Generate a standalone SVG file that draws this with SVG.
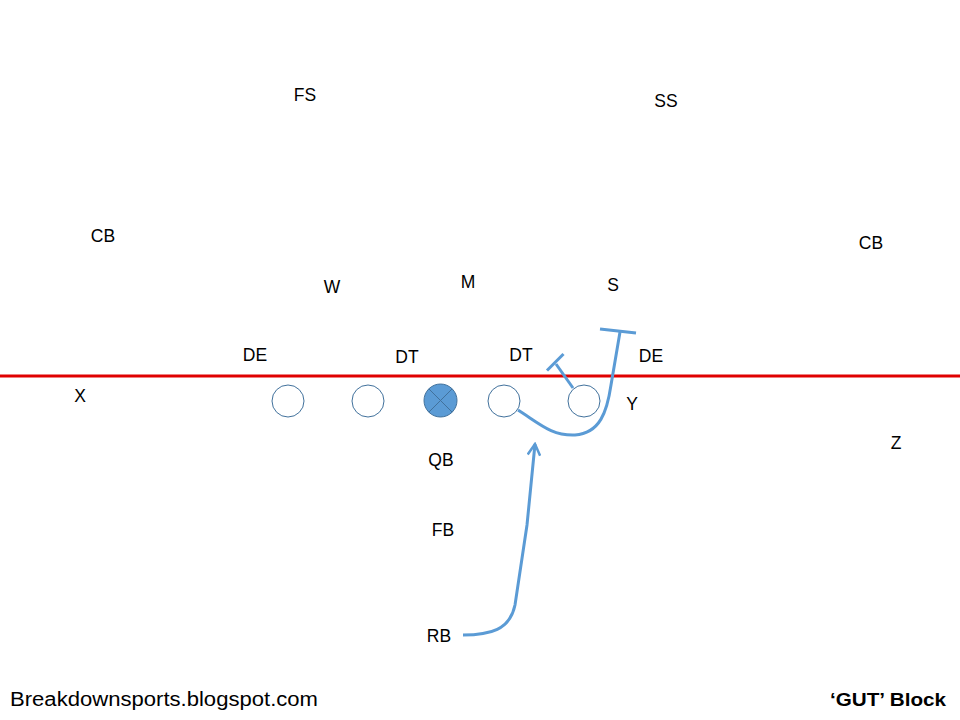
<svg xmlns="http://www.w3.org/2000/svg" width="960" height="720" viewBox="0 0 960 720">
<style>
text{font-family:"Liberation Sans","Open Sans",sans-serif;font-size:17.5px;fill:#000;text-anchor:middle}
.o{fill:#fff;stroke:#41719c;stroke-width:1}
.route{fill:none;stroke:#5b9bd5;stroke-width:3;stroke-linecap:butt}
</style>
<defs>
<marker id="ah" viewBox="0 0 12 12" refX="10" refY="6" markerWidth="5" markerHeight="5" orient="auto" markerUnits="strokeWidth">
<path d="M1,1 L10,6 L1,11" fill="none" stroke="#5b9bd5" stroke-width="2"/>
</marker>
</defs>
<rect width="960" height="720" fill="#fff"/>
<line x1="0" y1="376" x2="960" y2="376" stroke="#e00000" stroke-width="3"/>
<g id="defense">
<g id="FS"><text x="305" y="101">FS</text></g>
<g id="SS"><text x="666" y="107">SS</text></g>
<g id="CB-left"><text x="103" y="242">CB</text></g>
<g id="CB-right"><text x="871" y="249">CB</text></g>
<g id="W"><text x="332" y="293">W</text></g>
<g id="M"><text x="468" y="288">M</text></g>
<g id="S"><text x="613" y="291">S</text></g>
<g id="DE-left"><text x="255" y="361">DE</text></g>
<g id="DT-left"><text x="407" y="363">DT</text></g>
<g id="DT-right"><text x="521" y="361">DT</text></g>
<g id="DE-right"><text x="651" y="362">DE</text></g>
</g>
<g id="offense">
<g id="X"><text x="80" y="402">X</text></g>
<g id="Y"><text x="632" y="410">Y</text></g>
<g id="Z"><text x="896" y="449">Z</text></g>
<g id="QB"><text x="441" y="466">QB</text></g>
<g id="FB"><text x="443" y="536">FB</text></g>
<g id="RB"><text x="439" y="642">RB</text></g>
<g id="LT"><circle class="o" cx="288" cy="401" r="16"/></g>
<g id="LG"><circle class="o" cx="368" cy="401" r="16"/></g>
<g id="C"><circle cx="440.5" cy="400.5" r="16.5" fill="#5b9bd5" stroke="#41719c" stroke-width="1"/>
<path d="M428.8,388.8 L452.2,412.2 M452.2,388.8 L428.8,412.2" stroke="#41719c" stroke-width="1"/></g>
<g id="RG"><circle class="o" cx="504" cy="401" r="16"/></g>
<g id="RT"><circle class="o" cx="584" cy="401" r="16"/></g>
</g>
<g id="connectors">
<path class="route" d="M518,410 C540,424 552,436 575,435 C600,433 607,412 611,385 L620,332"/>
<line class="route" x1="600" y1="329" x2="636" y2="333"/>
<line class="route" x1="573" y1="388" x2="556" y2="364"/>
<line class="route" x1="547" y1="370.5" x2="563.5" y2="354"/>
<path class="route" d="M463,635 C490,635 510,630 515,605 L527,525 L535,444" marker-end="url(#ah)"/>
</g>
<text x="10" y="706" textLength="308" lengthAdjust="spacingAndGlyphs" style="text-anchor:start;font-size:20px">Breakdownsports.blogspot.com</text>
<text x="830" y="706" textLength="116" lengthAdjust="spacingAndGlyphs" style="text-anchor:start;font-size:19px;font-weight:bold">‘GUT’ Block</text>
</svg>
